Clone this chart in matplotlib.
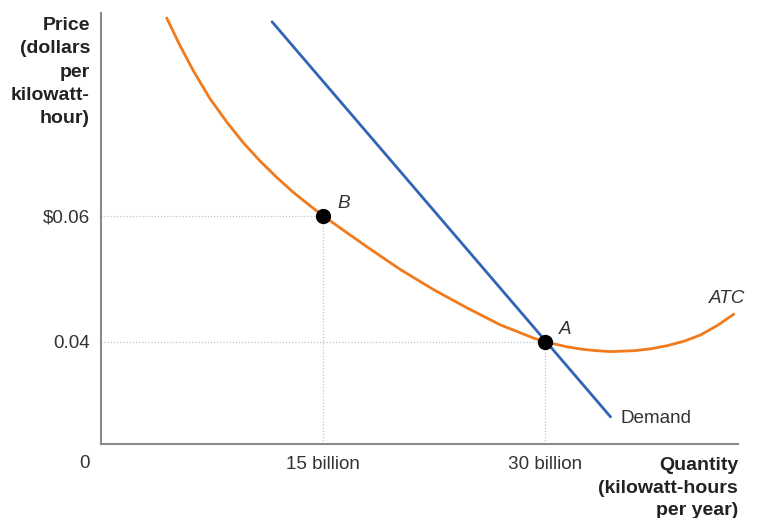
import matplotlib
matplotlib.use("Agg")
import matplotlib.pyplot as plt

plt.rcParams['font.family'] = ['Liberation Sans', 'DejaVu Sans']

# ATC curve points (quantity in billions kWh, price $/kWh)
atc_q = [4.44, 5.34, 6.24, 7.36, 8.49, 9.61, 10.74, 11.87, 13.0, 14.12, 15.0, 16.5, 17.95, 20.2, 22.45,
         24.71, 26.96, 29.21, 30.0, 31.5, 32.59, 33.5, 34.39, 35.97, 37.1, 38.22, 39.35, 40.47, 41.6, 42.72]
atc_p = [0.0914, 0.0870, 0.0830, 0.0786, 0.0749, 0.0716, 0.0687, 0.0661, 0.0637, 0.0616, 0.0600, 0.0575, 0.0551, 0.0515, 0.0483,
         0.0454, 0.0427, 0.0406, 0.0400, 0.0392, 0.0388, 0.0386, 0.03846, 0.0386, 0.0389, 0.0394, 0.0401, 0.0411, 0.0426, 0.0444]

# Demand line endpoints
dem_q = [11.55, 34.4]
dem_p = [0.0908, 0.0281]

# Marked points
pt_q = [15, 30]
pt_p = [0.06, 0.04]
pt_lab = ['B', 'A']

x_ticks = [15, 30]
x_ticklabels = ['15 billion', '30 billion']
y_ticks = [0.04, 0.06]
y_ticklabels = ['0.04', '$0.06']

orange = '#F07A1C'
blue = '#2F64B6'
txt = '#333333'
fs = 13.6

fig = plt.figure(figsize=(7.68, 5.18), dpi=100)
ax = fig.add_axes([0.1315, 0.1429, 0.8294, 0.832])
xmin, xmax = 0, 43
ymin, ymax = 0.0238, 0.0922
ax.set_xlim(xmin, xmax)
ax.set_ylim(ymin, ymax)

for s in ['top', 'right']:
    ax.spines[s].set_visible(False)
for s in ['left', 'bottom']:
    ax.spines[s].set_color('#8a8a8a')
    ax.spines[s].set_linewidth(1.5)

# guide lines
for q, p in zip(pt_q, pt_p):
    ax.plot([xmin, q], [p, p], color='#c4c4c4', lw=0.9, ls=(0, (1, 1.5)), zorder=1)
    ax.plot([q, q], [ymin, p], color='#c4c4c4', lw=0.9, ls=(0, (1, 1.5)), zorder=1)

ax.plot(atc_q, atc_p, color=orange, lw=2, zorder=2, solid_capstyle='round', solid_joinstyle='round')
ax.plot(dem_q, dem_p, color=blue, lw=2, zorder=3, solid_capstyle='round')
ax.plot(pt_q, pt_p, 'o', color='black', markersize=10, zorder=4)

ax.set_xticks(x_ticks)
ax.set_xticklabels(x_ticklabels, fontsize=fs, color=txt)
ax.set_yticks(y_ticks)
ax.set_yticklabels(y_ticklabels, fontsize=fs, color=txt)
ax.tick_params(length=0)
ax.tick_params(axis='y', pad=8)
ax.tick_params(axis='x', pad=8.5)

# labels on points
for q, p, lab in zip(pt_q, pt_p, pt_lab):
    ax.annotate(lab, (q, p), xytext=(10, 6), textcoords='offset points',
                fontsize=fs, style='italic', color=txt)
ax.annotate('ATC', (atc_q[-1], atc_p[-1]), xytext=(-18, 8), textcoords='offset points',
            fontsize=fs, style='italic', color=txt)
ax.annotate('Demand', (dem_q[-1], dem_p[-1]), xytext=(7, -1), textcoords='offset points',
            fontsize=fs, color=txt, va='center')

# origin
fig.text(85 / 768, 1 - 463 / 518, '0', fontsize=fs, color=txt, ha='center', va='center')

# axis titles
fig.text(90 / 768, 1 - 17 / 518, 'Price\n(dollars\nper\nkilowatt-\nhour)', fontsize=14,
         fontweight='bold', color='#222222', ha='right', va='top', multialignment='right',
         linespacing=1.49)
fig.text(738 / 768, 1 - 457 / 518, 'Quantity\n(kilowatt-hours\nper year)', fontsize=14,
         fontweight='bold', color='#222222', ha='right', va='top', multialignment='right',
         linespacing=1.43)

fig.savefig('out.png', dpi=100)
